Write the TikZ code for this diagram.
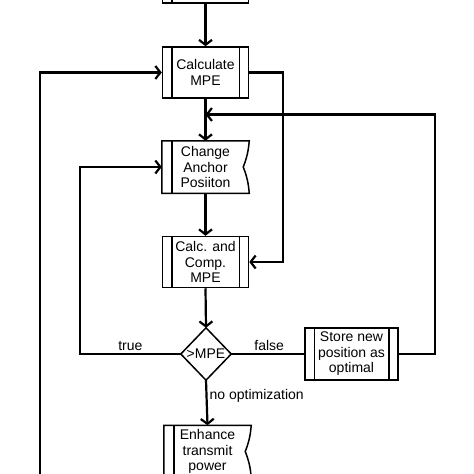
\documentclass[tikz,border=0pt]{standalone}
\usepackage{fontspec}
\setmainfont{Liberation Sans}
\usepackage{tikz}
\usetikzlibrary{arrows.meta,calc}

\tikzset{
  box/.style={draw,line width=1.5pt,minimum width=86pt,minimum height=51pt,inner sep=1pt,align=center},
  wavebox/.style={box,draw=none},
  line/.style={line width=2.2pt},
  arr/.style={line,-{Straight Barb[length=5pt,width=13pt,line width=2.2pt]}},
  lbl/.style={inner sep=2pt}
}

\begin{document}
\begin{tikzpicture}[x=1pt,y=-1pt,font=\fontsize{14}{15.5}\selectfont]
\useasboundingbox (0,0) rectangle (474,474);
\clip (0,0) rectangle (474,474);

% process boxes
\node[box] (start) at (205.5,-22.5) {};
\node[box] (calc) at (205.5,72.5) {Calculate\\MPE};
\node[wavebox] (change) at (205.5,167) {Change\\Anchor\\Posiiton};
\node[box] (comp) at (205.5,262) {Calc. and\\Comp.\\MPE};
\node[minimum width=50pt,minimum height=52pt,inner sep=0pt] (dec) at (206,354) {>MPE};
\node[box,minimum width=93pt,minimum height=52pt] (store) at (351.5,354) {Store new\\position as\\optimal};
\node[wavebox] (enh) at (207.5,451.5) {Enhance\\transmit\\power};
\coordinate (bottom) at (40,480);

% side bars
\draw[line width=1.5pt] ([xshift=10pt]start.north west) -- ([xshift=10pt]start.south west);
\foreach \n in {calc,comp,store}{
  \draw[line width=1.5pt] ([xshift=10pt]\n.north west) -- ([xshift=10pt]\n.south west);
  \draw[line width=1.5pt] ([xshift=-10pt]\n.north east) -- ([xshift=-10pt]\n.south east);
}

% boxes with notched side
\foreach \n in {change,enh}{
  \draw[line width=1.5pt] (\n.north west) -- (\n.north east)
    to[bend left=8] ($(\n.east)+(-6pt,0)$) to[bend left=8] (\n.south east)
    -- (\n.south west) -- cycle;
  \draw[line width=1.5pt] ([xshift=10pt]\n.north west) -- ([xshift=10pt]\n.south west);
}

% decision
\draw[line width=1.5pt] (dec.north) -- (dec.east) -- (dec.south) -- (dec.west) -- cycle;

% connectors
\draw[arr] (start.south) -- (calc.north);
\draw[arr] (calc.south) -- (change.north);
\draw[arr] (change.south) -- (comp.north);
\draw[arr] (comp.south) -- (dec.north);
\draw[arr] (dec.south) -- node[lbl,right,pos=0.35] {no optimization} (enh.north);
\draw[arr] (calc.east) -| (283,262) -- (comp.east);
\draw[line] (dec.east) -- node[lbl,above,pos=0.52] {false} (store.west);
\draw[arr] (store.east) -- (435,354) |- ($(calc.south)!0.375!(change.north)$);
\draw[arr] (dec.west) -- node[lbl,above,pos=0.5] {true} (80,354) |- (change.west);
\draw[arr] (bottom) |- (calc.west);
\end{tikzpicture}
\end{document}
